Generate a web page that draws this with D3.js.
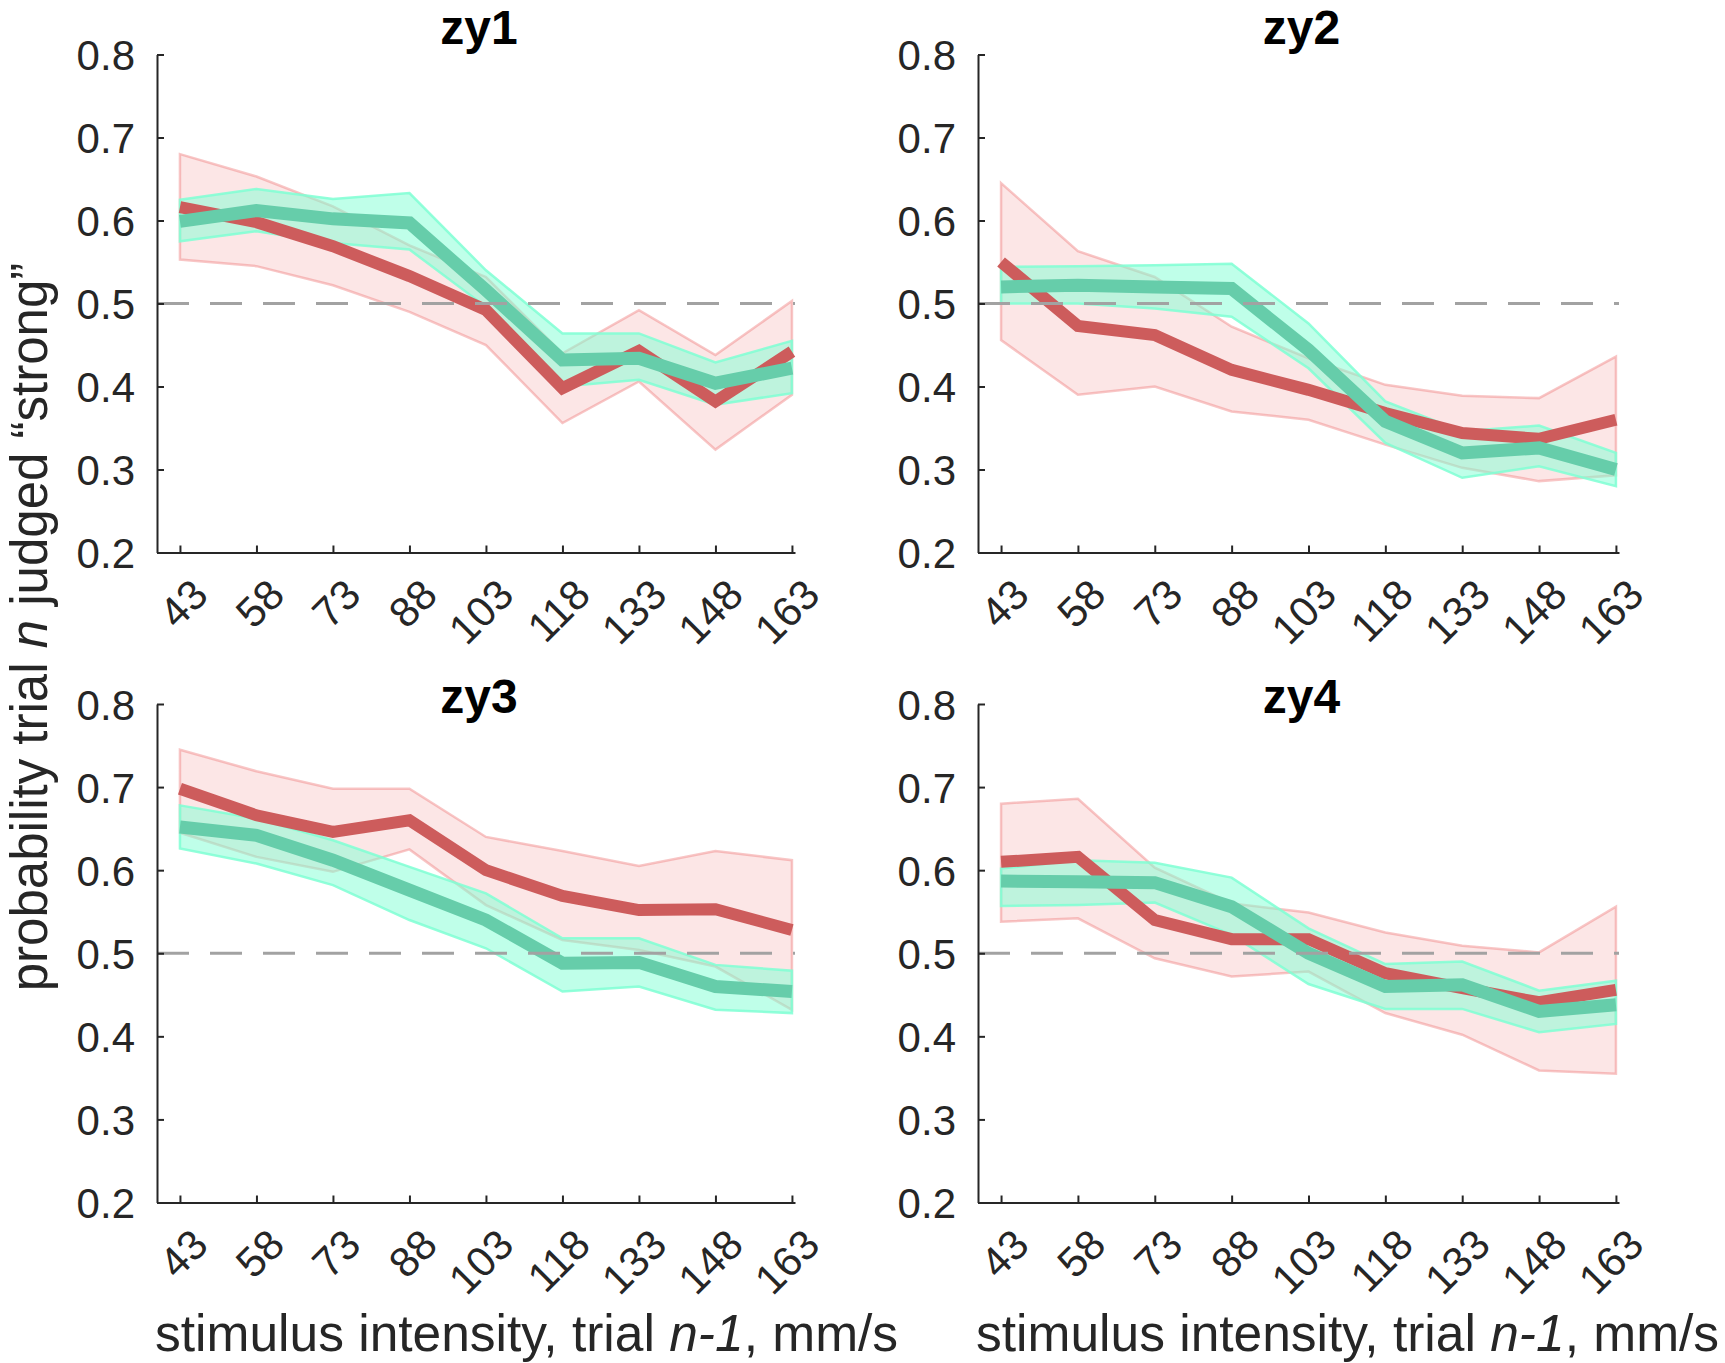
<!DOCTYPE html>
<html>
<head>
<meta charset="utf-8">
<script src="https://cdn.jsdelivr.net/npm/d3@7"></script>
<style>
  html, body { margin: 0; padding: 0; background: #ffffff; }
  svg { display: block; }
</style>
</head>
<body>
<svg id="chart" width="1725" height="1363"></svg>
<script>
// ---------------- data ----------------
const stimulus = [43, 58, 73, 88, 103, 118, 133, 148, 163];
const yTicks = [0.2, 0.3, 0.4, 0.5, 0.6, 0.7, 0.8];
const panelTitles = ["zy1", "zy2", "zy3", "zy4"];
const chanceLevel = 0.5;

// red series (mean, upper bound, lower bound) per panel
const redMean1 = [0.616, 0.598, 0.569, 0.533, 0.492, 0.398, 0.443, 0.382, 0.442];
const redHi1   = [0.680, 0.653, 0.617, 0.570, 0.532, 0.440, 0.492, 0.438, 0.503];
const redLo1   = [0.553, 0.545, 0.522, 0.490, 0.450, 0.356, 0.406, 0.324, 0.390];
const redMean2 = [0.550, 0.473, 0.462, 0.420, 0.396, 0.368, 0.344, 0.337, 0.360];
const redHi2   = [0.645, 0.563, 0.532, 0.472, 0.434, 0.402, 0.389, 0.386, 0.436];
const redLo2   = [0.456, 0.390, 0.400, 0.370, 0.360, 0.330, 0.302, 0.286, 0.293];
const redMean3 = [0.698, 0.666, 0.646, 0.660, 0.600, 0.569, 0.552, 0.553, 0.528];
const redHi3   = [0.745, 0.719, 0.698, 0.698, 0.640, 0.623, 0.605, 0.623, 0.612];
const redLo3   = [0.645, 0.616, 0.598, 0.625, 0.558, 0.516, 0.504, 0.484, 0.432];
const redMean4 = [0.610, 0.616, 0.540, 0.517, 0.517, 0.476, 0.458, 0.441, 0.456];
const redHi4   = [0.680, 0.686, 0.603, 0.560, 0.549, 0.525, 0.509, 0.501, 0.556];
const redLo4   = [0.538, 0.542, 0.494, 0.472, 0.478, 0.428, 0.402, 0.359, 0.355];

// green series (mean, upper bound, lower bound) per panel
const grnMean1 = [0.599, 0.612, 0.602, 0.597, 0.516, 0.432, 0.434, 0.404, 0.422];
const grnHi1   = [0.625, 0.638, 0.626, 0.633, 0.540, 0.464, 0.464, 0.429, 0.455];
const grnLo1   = [0.575, 0.587, 0.573, 0.565, 0.496, 0.400, 0.408, 0.378, 0.392];
const grnMean2 = [0.520, 0.522, 0.520, 0.518, 0.444, 0.358, 0.320, 0.326, 0.300];
const grnHi2   = [0.544, 0.545, 0.546, 0.548, 0.476, 0.382, 0.346, 0.353, 0.320];
const grnLo2   = [0.500, 0.500, 0.494, 0.484, 0.422, 0.332, 0.290, 0.304, 0.280];
const grnMean3 = [0.652, 0.642, 0.612, 0.576, 0.540, 0.488, 0.489, 0.460, 0.454];
const grnHi3   = [0.678, 0.662, 0.636, 0.604, 0.572, 0.518, 0.518, 0.486, 0.479];
const grnLo3   = [0.626, 0.608, 0.582, 0.540, 0.506, 0.454, 0.460, 0.432, 0.428];
const grnMean4 = [0.587, 0.586, 0.585, 0.556, 0.500, 0.460, 0.462, 0.430, 0.438];
const grnHi4   = [0.602, 0.612, 0.609, 0.591, 0.530, 0.487, 0.490, 0.455, 0.467];
const grnLo4   = [0.557, 0.558, 0.561, 0.522, 0.463, 0.433, 0.433, 0.405, 0.415];

const redSeries = [
  { mean: redMean1, hi: redHi1, lo: redLo1 },
  { mean: redMean2, hi: redHi2, lo: redLo2 },
  { mean: redMean3, hi: redHi3, lo: redLo3 },
  { mean: redMean4, hi: redHi4, lo: redLo4 }
];
const grnSeries = [
  { mean: grnMean1, hi: grnHi1, lo: grnLo1 },
  { mean: grnMean2, hi: grnHi2, lo: grnLo2 },
  { mean: grnMean3, hi: grnHi3, lo: grnLo3 },
  { mean: grnMean4, hi: grnHi4, lo: grnLo4 }
];

// ---------------- layout ----------------
const FONT = "'Liberation Sans', Arial, Helvetica, sans-serif";
const AXIS_COLOR = "#262626";
const xDomain = [38.5, 163.6];
const layout = [
  { x0: 157, x1: 795,  yTop: 54.5, yBot: 552.5, titleY: 44 },
  { x0: 978, x1: 1619, yTop: 54.5, yBot: 552.5, titleY: 44 },
  { x0: 157, x1: 795,  yTop: 704,  yBot: 1202.5, titleY: 713 },
  { x0: 978, x1: 1619, yTop: 704,  yBot: 1202.5, titleY: 713 }
];

const svg = d3.select("#chart");
svg.append("rect").attr("width", 1725).attr("height", 1363).attr("fill", "#ffffff");

layout.forEach((L, p) => {
  const x = d3.scaleLinear().domain(xDomain).range([L.x0, L.x1]);
  const y = d3.scaleLinear().domain([0.2, 0.8]).range([L.yBot, L.yTop]);
  const g = svg.append("g");

  const area = (s) => d3.area()
    .x((d, i) => x(stimulus[i]))
    .y0((d, i) => y(s.lo[i]))
    .y1((d, i) => y(s.hi[i]))(stimulus);
  const line = (vals) => d3.line()
    .x((d, i) => x(stimulus[i]))
    .y((d) => y(d))(vals);

  // confidence bands
  g.append("path").attr("d", area(redSeries[p]))
    .attr("fill", "rgba(240,128,128,0.2)")
    .attr("stroke", "rgba(240,128,128,0.45)")
    .attr("stroke-width", 2.5)
    .attr("stroke-linejoin", "miter");
  g.append("path").attr("d", area(grnSeries[p]))
    .attr("fill", "rgba(127,255,212,0.5)")
    .attr("stroke", "rgba(127,255,212,0.85)")
    .attr("stroke-width", 2.5)
    .attr("stroke-linejoin", "miter");

  // mean lines
  g.append("path").attr("d", line(redSeries[p].mean))
    .attr("fill", "none").attr("stroke", "#CD5C5C")
    .attr("stroke-width", 12).attr("stroke-linejoin", "miter").attr("stroke-linecap", "butt");
  g.append("path").attr("d", line(grnSeries[p].mean))
    .attr("fill", "none").attr("stroke", "#66CDAA")
    .attr("stroke-width", 13).attr("stroke-linejoin", "miter").attr("stroke-linecap", "butt");

  // chance line
  g.append("line")
    .attr("x1", L.x0).attr("x2", L.x1)
    .attr("y1", y(chanceLevel)).attr("y2", y(chanceLevel))
    .attr("stroke", "#a2a2a2").attr("stroke-width", 3.2)
    .attr("stroke-dasharray", "32,21");

  // y axis
  const ya = g.append("g").attr("transform", `translate(${L.x0},0)`)
    .call(d3.axisLeft(y).tickValues(yTicks).tickFormat(d3.format(".1f"))
      .tickSize(-7).tickSizeOuter(0).tickPadding(22));
  ya.select(".domain").attr("stroke", AXIS_COLOR).attr("stroke-width", 2);
  ya.selectAll(".tick line").attr("stroke", AXIS_COLOR).attr("stroke-width", 2);
  ya.selectAll(".tick text").attr("fill", AXIS_COLOR)
    .attr("font-family", FONT).attr("font-size", 42).attr("dy", "0.36em");

  // x axis
  const xa = g.append("g").attr("transform", `translate(0,${L.yBot})`)
    .call(d3.axisBottom(x).tickValues(stimulus).tickFormat(d3.format("d"))
      .tickSize(-7).tickSizeOuter(0));
  xa.select(".domain").attr("stroke", AXIS_COLOR).attr("stroke-width", 2);
  xa.selectAll(".tick line").attr("stroke", AXIS_COLOR).attr("stroke-width", 2);
  xa.selectAll(".tick text").attr("fill", AXIS_COLOR)
    .attr("font-family", FONT).attr("font-size", 42)
    .attr("x", 0).attr("y", 0).attr("dy", "0.36em")
    .attr("text-anchor", "end")
    .attr("transform", "translate(19,34) rotate(-45)");

  // title
  g.append("text")
    .attr("x", (L.x0 + L.x1) / 2 + 3).attr("y", L.titleY)
    .attr("text-anchor", "middle")
    .attr("font-family", FONT).attr("font-weight", "bold").attr("font-size", 48)
    .attr("fill", "#000").text(panelTitles[p]);

  // x label on bottom panels
  if (p >= 2) {
    const t = g.append("text")
      .attr("x", L.x0 - 2).attr("y", 1351)
      .attr("font-family", FONT).attr("font-size", 51.5).attr("fill", AXIS_COLOR);
    t.append("tspan").text("stimulus intensity, trial ");
    t.append("tspan").attr("font-style", "italic").text("n-1");
    t.append("tspan").text(", mm/s");
  }
});

// shared y label
const yl = svg.append("text")
  .attr("transform", "translate(47,627) rotate(-90)")
  .attr("text-anchor", "middle")
  .attr("font-family", FONT).attr("font-size", 51).attr("fill", AXIS_COLOR);
yl.append("tspan").text("probability trial ");
yl.append("tspan").attr("font-style", "italic").text("n");
yl.append("tspan").text(" judged \u201Cstrong\u201D");
</script>
</body>
</html>
